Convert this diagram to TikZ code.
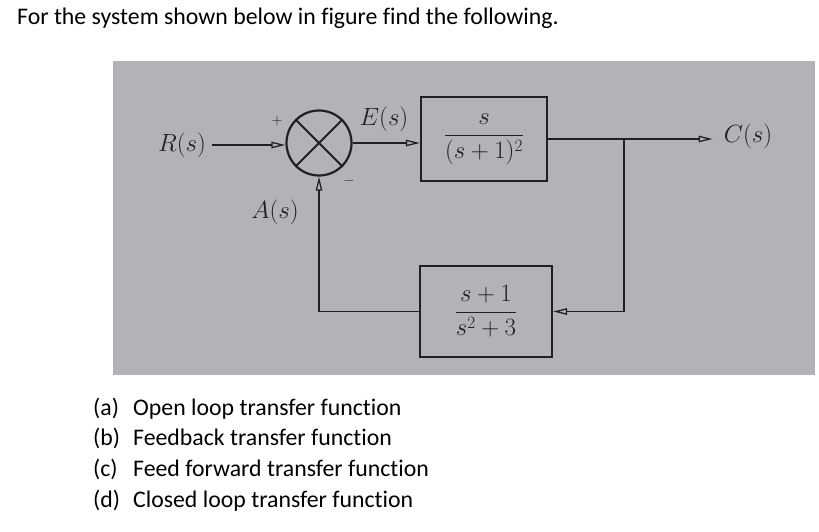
\documentclass[tikz,border=0pt]{standalone}
\usepackage{fontspec}
\setmainfont{Carlito}[Ligatures=NoCommon]
\usetikzlibrary{arrows.meta}
\definecolor{photo}{RGB}{177,179,182}
\definecolor{ink}{RGB}{32,32,35}
\tikzset{
  wire/.style={draw=ink, line width=1.8pt},
  arr/.style={wire, -{Triangle[open,length=14pt,width=6.5pt,line width=1.3pt]}},
  blk/.style={draw=ink, line width=2.2pt, inner sep=0pt},
  lbl/.style={text=ink, font=\fontsize{26}{30}\selectfont, inner sep=0pt},
  fracA/.style={text=ink, font=\fontsize{23}{27}\selectfont},
  fracB/.style={text=ink, font=\fontsize{25}{29}\selectfont},
  sign/.style={text=ink, font=\fontsize{14}{16}\selectfont, inner sep=0pt},
  txt/.style={font=\fontsize{23.8}{28}\selectfont, anchor=base west, inner sep=0pt},
}
\begin{document}
\begin{tikzpicture}[x=1pt,y=-1pt]
\useasboundingbox (0,0) rectangle (819,532);
% photo background
\fill[photo] (113,61) rectangle (815,375);

% title and questions
\node[txt] (title) at (17,25) {For the system shown below in figure find the following.};
\node[txt] (qa) at (93,415) {\makebox[40pt][l]{(a)}Open loop transfer function};
\node[txt] (qb) at (93,445.5) {\makebox[40pt][l]{(b)}Feedback transfer function};
\node[txt] (qc) at (93,476) {\makebox[40pt][l]{(c)}Feed forward transfer function};
\node[txt] (qd) at (93,507) {\makebox[40pt][l]{(d)}Closed loop transfer function};

% blocks
\node[blk, circle, minimum size=65pt] (sum) at (319,143) {};
\draw[ink, line width=1.8pt] (sum.north west) -- (sum.south east)
      (sum.north east) -- (sum.south west);
\node[blk, minimum width=126pt, minimum height=84pt] (G) at (484,139)
     {\tikz[baseline]\node[fracA] {$\displaystyle\frac{s}{(s+1)^2}$};};
\node[blk, minimum width=132pt, minimum height=91pt] (H) at (486,311.5)
     {\tikz[baseline]\node[fracB] {$\displaystyle\frac{s+1}{s^2+3}$};};

% labels
\node[lbl, inner xsep=6pt] (R) at (182,145) {$R(s)$};
\node[lbl] (E) at (384,119) {$E(s)$};
\node[lbl] (A) at (275,212) {$A(s)$};
\node[lbl, inner xsep=11pt] (C) at (748,136) {$C(s)$};
\node[sign] (plus) at (277,121) {$+$};
\node[sign] (minus) at (349,181) {$-$};

% connectors
\draw[arr] (R.east) -- (R.east -| sum.west);
\draw[arr] (sum.east) -- (sum.east -| G.west);
\coordinate (br) at (624,139);
\draw[wire] (G.east) -- (br);
\draw[arr] (br) -- (br -| C.west);
\draw[arr] (br) |- (H.east);
\draw[arr] (H.west) -| (sum.south);
\end{tikzpicture}
\end{document}
